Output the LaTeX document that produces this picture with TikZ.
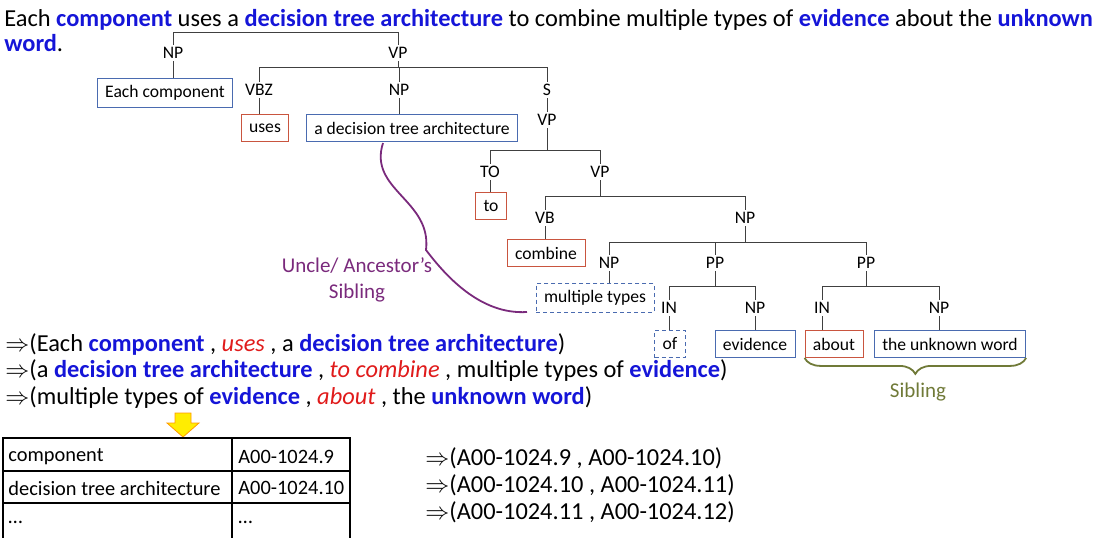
\documentclass[tikz,border=0pt]{standalone}
\usepackage{fontspec}
\setmainfont{Carlito}
\usepackage{xcolor}
\usetikzlibrary{decorations.pathreplacing}
\definecolor{kwblue}{HTML}{1515D8}
\definecolor{kwred}{HTML}{E01B1B}
\definecolor{boxblue}{HTML}{4A6BB0}
\definecolor{boxred}{HTML}{C9553F}
\definecolor{uncle}{HTML}{7A2A7C}
\definecolor{sib}{HTML}{707A38}
\newcommand{\kw}[1]{\textcolor{kwblue}{\textbf{#1}}}
\newcommand{\rel}[1]{\textcolor{kwred}{\textit{#1}}}

\begin{document}
\begin{tikzpicture}[
    x=0.5pt, y=-0.5pt,
    tag/.style={font=\fontsize{8.8}{9}\selectfont, inner sep=1pt},
    word/.style={rectangle, draw=boxblue, font=\fontsize{8.8}{9}\selectfont, minimum height=13.5pt, inner xsep=4pt},
    verb/.style={word, draw=boxred},
    open/.style={word, dash pattern=on 2pt off 1.5pt},
    branch/.style={draw=black!75, line width=0.5pt},
    line/.style={anchor=west, font=\fontsize{12.2}{14}\selectfont, inner sep=0pt},
    cell/.style={anchor=west, font=\fontsize{10.2}{12}\selectfont, inner sep=0pt},
]
\useasboundingbox (0,0) rectangle (1099,537);

% Sentence
\node[line] (s1) at (4,20) {Each \kw{component} uses a \kw{decision tree architecture} to combine multiple types of \kw{evidence} about the \kw{unknown}};
\node[line] (s2) at (4,43) {\kw{word}.};

% Tree labels
\node[tag] (np1) at (173,53) {NP};
\node[tag] (vp1) at (398,53) {VP};
\node[tag] (vbz) at (259,90) {VBZ};
\node[tag] (np2) at (399,90) {NP};
\node[tag] (s) at (547,90) {S};
\node[tag] (vp2) at (547,120) {VP};
\node[tag] (to) at (490,172) {TO};
\node[tag] (vp3) at (600,172) {VP};
\node[tag] (vb) at (545,218) {VB};
\node[tag] (np3) at (745,218) {NP};
\node[tag] (np4) at (609,263) {NP};
\node[tag] (pp1) at (715,263) {PP};
\node[tag] (pp2) at (866,263) {PP};
\node[tag] (in1) at (669,308) {IN};
\node[tag] (np5) at (755,308) {NP};
\node[tag] (in2) at (822,308) {IN};
\node[tag] (np6) at (939,308) {NP};

% Leaves
\node[word] (ec) at (165,93) {Each component};
\node[verb] (uses) at (265,128) {uses};
\node[word] (dta) at (412,128) {a decision tree architecture};
\node[verb] (tow) at (491,206) {to};
\node[verb] (comb) at (546,253) {combine};
\node[open] (mt) at (595,298) {multiple types};
\node[open] (of) at (670,344) {of};
\node[word] (evid) at (755,344) {evidence};
\node[verb] (about) at (834,344) {about};
\node[word] (tuw) at (950,344) {the unknown word};

% Branches
\draw[branch] (np1.north) |- (vp1.north |- 0,32) -- (vp1.north);
\draw[branch] (np1.south) -- (np1.south |- ec.north);
\draw[branch] (vp1.south) -- (vp1.south |- 0,67);
\draw[branch] (vbz.north) |- (s.north |- 0,67) -- (s.north);
\draw[branch] (np2.north) -- (np2.north |- 0,67);
\draw[branch] (vbz.south) -- (vbz.south |- uses.north);
\draw[branch] (np2.south) -- (np2.south |- dta.north);
\draw[branch] (s.south) -- (vp2.north);
\draw[branch] (vp2.south) -- (vp2.south |- 0,150);
\draw[branch] (to.north) |- (vp3.north |- 0,150) -- (vp3.north);
\draw[branch] (to.south) -- (to.south |- tow.north);
\draw[branch] (vp3.south) -- (vp3.south |- 0,196);
\draw[branch] (vb.north) |- (np3.north |- 0,196) -- (np3.north);
\draw[branch] (vb.south) -- (vb.south |- comb.north);
\draw[branch] (np3.south) -- (np3.south |- 0,242);
\draw[branch] (np4.north) |- (pp2.north |- 0,242) -- (pp2.north);
\draw[branch] (pp1.north) -- (pp1.north |- 0,242);
\draw[branch] (np4.south) -- (np4.south |- mt.north);
\draw[branch] (pp1.south) -- (pp1.south |- 0,286);
\draw[branch] (in1.north) |- (np5.north |- 0,286) -- (np5.north);
\draw[branch] (in1.south) -- (in1.south |- of.north);
\draw[branch] (np5.south) -- (np5.south |- evid.north);
\draw[branch] (pp2.south) -- (pp2.south |- 0,286);
\draw[branch] (in2.north) |- (np6.north |- 0,286) -- (np6.north);
\draw[branch] (in2.south) -- (in2.south |- about.north);
\draw[branch] (np6.south) -- (np6.south |- tuw.north);

% Uncle brace
\coordinate (ua) at (383,143);
\coordinate (uc) at (426,250);
\coordinate (ub) at (527,312);
\draw[uncle, line width=0.9pt] (ua) .. controls (368,190) and (432,200) .. (uc)
    .. controls (445,275) and (480,315) .. (ub);
\node[uncle, align=center, font=\fontsize{10.5}{13}\selectfont] (ul) at (357,280) {Uncle/ Ancestor's\\Sibling};

% Sibling brace
\draw[sib, line width=0.9pt, decorate, decoration={brace, mirror, amplitude=8pt}]
    (about.south west) -- (tuw.south east);
\node[sib, font=\fontsize{10.5}{12}\selectfont] (sl) at (918,392) {Sibling};

% Triples
\node[line] (t1) at (5,344) {$\Rightarrow$(Each \kw{component} , \rel{uses} , a \kw{decision tree architecture})};
\node[line] (t2) at (5,371) {$\Rightarrow$(a \kw{decision tree architecture} , \rel{to combine} , multiple types of \kw{evidence})};
\node[line] (t3) at (5,398) {$\Rightarrow$(multiple types of \kw{evidence} , \rel{about} , the \kw{unknown word})};

% Arrow
\draw[orange!80!yellow, fill=yellow!95!orange, line width=0.4pt] (175,413) -- (191,413) -- (191,423) -- (199,423)
    -- (183,437) -- (167,423) -- (175,423) -- cycle;

% Table
\draw[black, line width=0.6pt] (3,438) rectangle (350,540);
\draw[black, line width=0.6pt] (3,471) -- (350,471) (3,503) -- (350,503) (232,438) -- (232,540);
\node[cell] (c1) at (8,457) {component};
\node[cell] (c2) at (8,488) {decision tree architecture};
\node[cell] (c3) at (8,522) {\ldots};
\node[cell] (d1) at (238,457) {A00-1024.9};
\node[cell] (d2) at (238,488) {A00-1024.10};
\node[cell] (d3) at (238,522) {\ldots};

% Pairs
\node[line] (p1) at (425,458) {$\Rightarrow$(A00-1024.9 , A00-1024.10)};
\node[line] (p2) at (425,485) {$\Rightarrow$(A00-1024.10 , A00-1024.11)};
\node[line] (p3) at (425,512) {$\Rightarrow$(A00-1024.11 , A00-1024.12)};
\end{tikzpicture}
\end{document}
